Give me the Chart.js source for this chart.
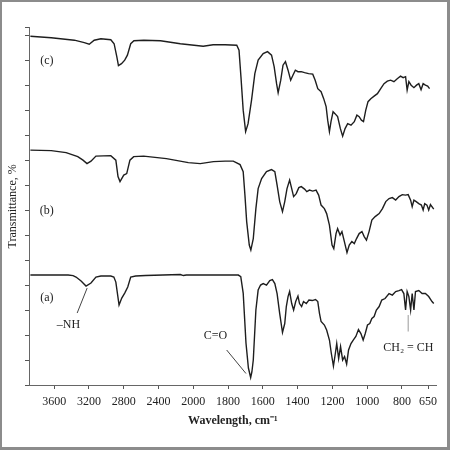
<!DOCTYPE html>
<html><head><meta charset="utf-8">
<script src="https://cdn.jsdelivr.net/npm/chart.js@4"></script>
<style>
html,body{margin:0;padding:0;background:#fff}
#wrap{position:relative;width:450px;height:450px}
#frame{position:absolute;left:0;top:0;width:450px;height:450px;box-sizing:border-box;border-style:solid;border-color:#8c8c8c;border-width:2px 3px 3px 2px;pointer-events:none}
</style>
</head><body>
<div id="wrap"><canvas id="c" width="450" height="450"></canvas><div id="frame"></div></div>
<script>
// x-axis tick labels (wavenumber, cm-1)
const xTickLabels = [3600,3200,2800,2400,2000,1800,1600,1400,1200,1000,800,650];
const seriesNames = ['(a)','(b)','(c)'];
// [wavenumber, transmittance (arbitrary offset units)]
const spectrumA = [[3874,22],[3440,22],[3383,21.9],[3349,21.6],[3291,20.8],[3234,19.8],[3177,20.4],[3120,21.6],[3063,21.8],[2949,21.8],[2914,21.6],[2891,20.6],[2854,16],[2823,17.4],[2789,18.4],[2754,19.6],[2720,21.6],[2663,21.8],[2549,21.9],[2149,22.1],[2114,21.9],[2080,22],[1817,22],[1741,22],[1727,21.7],[1713,18.4],[1697,8.4],[1683,3.4],[1670,1.5],[1663,2.6],[1655,5],[1640,15],[1627,19],[1613,20],[1598,20.3],[1579,20],[1560,20.9],[1545,21.1],[1531,20.3],[1518,18.3],[1503,14.3],[1487,10.5],[1474,12.3],[1465,15.7],[1455,17.7],[1446,18.7],[1434,16.3],[1423,15],[1411,16.7],[1398,17.8],[1389,16.3],[1377,15.7],[1366,16.7],[1350,16.3],[1335,17],[1316,16.9],[1297,17.1],[1284,16.7],[1274,14.3],[1265,12.7],[1246,12],[1233,11],[1217,9],[1206,6.3],[1194,3.8],[1183,6.3],[1175,8.3],[1164,5.3],[1153,7.7],[1141,5],[1130,5.7],[1118,4.2],[1107,7],[1093,8.3],[1080,9],[1065,9.7],[1050,11.1],[1036,10.3],[1023,9],[1011,10.3],[998,12],[985,12.3],[973,13.3],[960,13.7],[947,15],[931,15.7],[916,17],[897,17.3],[874,18.3],[855,18],[836,18.7],[817,18.9],[802,19.1],[789,18.3],[779,15],[770,18.7],[760,17.7],[750,15],[741,18.3],[731,15],[722,18.7],[703,18.9],[684,18.3],[665,18.3],[646,17.7],[627,16.7],[617,16.3]];
const spectrumB = [[3874,47],[3634,46.9],[3463,46.5],[3329,45.7],[3269,45],[3223,44.3],[3177,44.8],[3120,45.8],[2949,45.9],[2891,45],[2866,41.7],[2843,40.7],[2800,42],[2766,42.3],[2729,45],[2686,45.7],[2571,45.8],[2309,45.3],[2057,44.5],[1960,44.3],[1884,44.7],[1817,44.8],[1770,44.8],[1731,44.1],[1713,42.7],[1703,38],[1693,32.7],[1678,28],[1669,27],[1655,29.3],[1640,35.3],[1627,39.3],[1607,41.3],[1579,42.7],[1550,43.1],[1531,42.7],[1518,40],[1503,36.7],[1487,34.7],[1474,36.7],[1461,39.3],[1446,41],[1434,39.3],[1423,37.7],[1408,38.3],[1393,39.5],[1379,39.7],[1360,39.2],[1347,38.7],[1332,39],[1313,38.8],[1294,39],[1279,38],[1265,36],[1246,35.3],[1233,34.3],[1217,32],[1202,28],[1192,27.3],[1179,30.3],[1170,31.3],[1156,30],[1145,30.7],[1131,28.7],[1116,26.5],[1103,28],[1088,28.7],[1074,28.3],[1061,29.3],[1046,30.3],[1030,30.7],[1017,29.7],[1004,29],[989,30.7],[973,33],[954,33.7],[931,34.3],[912,35.3],[893,36.7],[874,37.3],[855,37.5],[836,37],[817,37.7],[798,38.1],[779,38],[764,38.1],[750,37],[741,35.7],[731,37],[718,36.7],[703,36.3],[688,36],[678,35],[669,36.3],[656,36],[646,35],[636,36.1],[617,35.2]];
const spectrumC = [[3874,69.8],[3634,69.5],[3368,69],[3254,68.5],[3197,68.2],[3140,69],[3063,69.3],[2949,69.1],[2911,68.3],[2880,65.7],[2861,63.9],[2826,64.3],[2789,65],[2758,66],[2720,68.3],[2683,68.9],[2569,69],[2377,68.9],[2149,68.3],[1943,67.8],[1886,68.1],[1817,68.1],[1750,68],[1737,67],[1726,61.7],[1713,55],[1699,50.7],[1685,52.3],[1665,57],[1646,62.3],[1627,65],[1598,66.3],[1573,66.7],[1550,66],[1535,63.7],[1521,60.3],[1512,58.5],[1497,61],[1484,64],[1470,64.7],[1455,63],[1440,61],[1427,62],[1413,63],[1398,62.7],[1379,62.7],[1360,62.5],[1337,62.3],[1313,62.2],[1299,61],[1284,59.3],[1265,58.7],[1250,57.3],[1236,55.7],[1227,53],[1217,50.7],[1208,52.7],[1196,54.7],[1185,54.3],[1170,53.7],[1154,51.3],[1141,49.8],[1127,51.3],[1112,52.3],[1093,52],[1074,52.7],[1059,54],[1046,53.7],[1033,53],[1021,52.7],[1008,55],[995,56.7],[979,57.3],[960,57.8],[941,58.3],[922,59.3],[903,60.3],[884,60.8],[865,61],[846,60.7],[827,61.3],[808,61.8],[793,61.5],[779,61.7],[770,59],[760,60.7],[747,60],[731,59.5],[716,60],[703,60.3],[690,59.1],[678,60.3],[665,60],[652,59.8],[641,59.3]];

// broken wavenumber axis: 400 cm-1 per unit above 2000, 200 cm-1 per unit below
function toAxis(w){ return w >= 2000 ? -(w-2000)/400 : (2000-w)/200; }
function fromAxis(p){ return p < 0 ? 2000 - p*400 : 2000 - p*200; }

const FONT = "'Liberation Serif', 'Times New Roman', serif";
const lineColor = '#1e1e1e';
function ds(arr){
  return {data: arr.map(d=>({x: toAxis(d[0]), y: d[1]})), borderColor: lineColor, borderWidth: 1.4,
          pointRadius: 0, tension: 0, fill: false};
}

const annotations = [
  {text:'(c)', w:3685, t:64.8},
  {text:'(b)', w:3685, t:34.9},
  {text:'(a)', w:3685, t:17.5},
  {text:'\u2013NH', w:3436, t:12.1},
  {text:'C=O', w:1872, t:9.8},
  {text:'CH\u2082 = CH', w:763, t:7.5}
];
const leaders = [
  {w1:3336, t1:14.4, w2:3221, t2:19.4, color:'#444'},
  {w1:1808, t1:7.0, w2:1697, t2:2.3, color:'#444'},
  {w1:764, t1:14.0, w2:764, t2:10.7, color:'#999'}
];

const annotate = {
  id:'annotate',
  afterDatasetsDraw(chart){
    const {ctx, scales:{x,y}} = chart;
    ctx.save();
    leaders.forEach(l=>{
      ctx.strokeStyle = l.color; ctx.lineWidth = 1;
      ctx.beginPath();
      ctx.moveTo(x.getPixelForValue(toAxis(l.w1)), y.getPixelForValue(l.t1));
      ctx.lineTo(x.getPixelForValue(toAxis(l.w2)), y.getPixelForValue(l.t2));
      ctx.stroke();
    });
    ctx.fillStyle = '#222';
    ctx.font = '12px ' + FONT;
    ctx.textAlign = 'center'; ctx.textBaseline = 'middle';
    annotations.forEach(a=>{
      ctx.fillText(a.text, x.getPixelForValue(toAxis(a.w)), y.getPixelForValue(a.t));
    });
    ctx.restore();
  }
};

new Chart(document.getElementById('c'), {
  type:'line',
  data:{datasets:[ds(spectrumC), ds(spectrumB), ds(spectrumA)]},
  options:{
    responsive:false, animation:false,
    layout:{padding:{left:0, right:13.3, top:27.7, bottom:22}},
    plugins:{legend:{display:false}, tooltip:{enabled:false}},
    scales:{
      x:{type:'linear', min:toAxis(3890), max:toAxis(600),
        afterBuildTicks(s){ s.ticks = xTickLabels.map(w=>({value: toAxis(w)})); },
        afterFit(s){ s.height = 43; },
        ticks:{autoSkip:false, maxRotation:0, padding:6, color:'#222', font:{family:FONT, size:12},
          callback:(v)=>String(Math.round(fromAxis(v)))},
        grid:{drawOnChartArea:false, tickLength:4, color:'#555'},
        border:{color:'#666', width:1},
        title:{display:true, text:'Wavelength, cm\u207B\u00B9', color:'#222', font:{family:FONT, size:12, weight:'bold'}, padding:{top:2,bottom:0}}
      },
      y:{type:'linear', min:0, max:71.5,
        afterBuildTicks(s){ const t=[]; for(let v=0; v<=70; v+=5) t.push({value:v}); t.push({value:71.5}); s.ticks=t; },
        afterFit(s){ s.width = 29; },
        ticks:{display:false},
        grid:{drawOnChartArea:false, tickLength:4, color:'#555'},
        border:{color:'#666', width:1},
        title:{display:true, text:'Transmittance, %', color:'#222', font:{family:FONT, size:12}, padding:{top:6,bottom:0}}
      }
    }
  },
  plugins:[annotate]
});
</script>
</body></html>
